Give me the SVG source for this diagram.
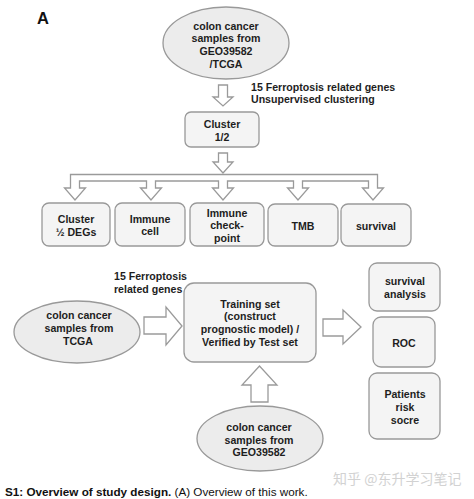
<svg xmlns="http://www.w3.org/2000/svg" width="474" height="499" viewBox="0 0 474 499">
<style>
.bg{fill:#ffffff}
.ell{fill:#ececec;stroke:#999999;stroke-width:1.3}
.box{fill:#f4f4f4;stroke:#999999;stroke-width:1.3}
.arr{fill:#ffffff;stroke:#9a9a9a;stroke-width:1.3;stroke-linejoin:miter}
text{font-family:"Liberation Sans",Arial,sans-serif;font-weight:bold;font-size:10.6px;fill:#1e1e1e}
.c{text-anchor:middle}
.lab{text-anchor:start}
.cap{font-size:11.7px;fill:#111}
.wm{font-family:"Noto Sans CJK SC","Liberation Sans",sans-serif;font-weight:normal;font-size:14px;fill:#d2d2d2}
</style>
<rect class="bg" x="0" y="0" width="474" height="499"/>
<text x="37" y="24" style="font-size:16.5px;fill:#111">A</text>

<g id="connectors">
  <polygon class="arr" points="218.5,85 227.5,85 227.5,97 233,97 223,106 213,97 218.5,97"/>
  <polygon class="arr" points="218.5,153 227.5,153 227.5,162 233,162 223,173 213,162 218.5,162"/>
  <path class="arr" d="M70.5,174.5 H377.5 V188 H383.5 L373,200 L362.5,188 H368.5 V181 H302.5 V188 H308.5 L298,200 L287.5,188 H293.5 V181 H227.5 V188 H233.5 L223,200 L212.5,188 H218.5 V181 H155.5 V188 H161.5 L151,200 L140.5,188 H146.5 V181 H79.5 V188 H85.5 L75,200 L64.5,188 H70.5 Z"/>
  <polygon class="arr" points="144,317 166,317 166,307 182,326 166,345 166,334 144,334"/>
  <polygon class="arr" points="323,319 343,319 343,310 361,327 343,344 343,336 323,336"/>
  <polygon class="arr" points="251,402 251,385 242,385 259.5,366 277,385 268,385 268,402"/>
</g>

<g id="node-top">
  <ellipse class="ell" cx="226" cy="43" rx="63" ry="36"/>
  <text class="c" x="226" y="29.5">colon cancer</text>
  <text class="c" x="226" y="42.2">samples from</text>
  <text class="c" x="226" y="55">GEO39582</text>
  <text class="c" x="226" y="67.7">/TCGA</text>
</g>
<g id="label-top">
  <text class="lab" x="251" y="90.5">15 Ferroptosis related genes</text>
  <text class="lab" x="251" y="102.8">Unsupervised clustering</text>
</g>
<g id="node-cluster">
  <rect class="box" x="185" y="112" width="74" height="35" rx="6"/>
  <text class="c" x="222" y="128">Cluster</text>
  <text class="c" x="222" y="140.5">1/2</text>
</g>
<g id="node-degs">
  <rect class="box" x="42" y="203" width="68" height="43" rx="7"/>
  <text class="c" x="76" y="223.3">Cluster</text>
  <text class="c" x="76" y="236">½ DEGs</text>
</g>
<g id="node-immune-cell">
  <rect class="box" x="115" y="203" width="70" height="43" rx="7"/>
  <text class="c" x="150" y="222.7">Immune</text>
  <text class="c" x="150" y="235.3">cell</text>
</g>
<g id="node-checkpoint">
  <rect class="box" x="190" y="203" width="74" height="43" rx="7"/>
  <text class="c" x="227" y="216.7">Immune</text>
  <text class="c" x="227" y="229.3">check-</text>
  <text class="c" x="227" y="241.8">point</text>
</g>
<g id="node-tmb">
  <rect class="box" x="268" y="204" width="70" height="42" rx="7"/>
  <text class="c" x="303" y="229.5">TMB</text>
</g>
<g id="node-survival">
  <rect class="box" x="341" y="204" width="70" height="42" rx="7"/>
  <text class="c" x="376" y="229.5">survival</text>
</g>

<g id="label-bottom">
  <text class="lab" x="114" y="280">15 Ferroptosis</text>
  <text class="lab" x="114" y="292.7">related genes</text>
</g>
<g id="node-tcga">
  <ellipse class="ell" cx="77" cy="332" rx="63" ry="31"/>
  <text class="c" x="79" y="319.3">colon cancer</text>
  <text class="c" x="79" y="332">samples from</text>
  <text class="c" x="78" y="344.7">TCGA</text>
</g>
<g id="node-training">
  <rect class="box" x="184" y="283" width="132" height="79" rx="10"/>
  <text class="c" x="250" y="307.7">Training set</text>
  <text class="c" x="250" y="320.4">(construct</text>
  <text class="c" x="250" y="333.1">prognostic model) /</text>
  <text class="c" x="250" y="345.8">Verified by Test set</text>
</g>
<g id="node-survival-analysis">
  <rect class="box" x="369" y="263" width="71" height="48" rx="8"/>
  <text class="c" x="405" y="285">survival</text>
  <text class="c" x="405" y="297.7">analysis</text>
</g>
<g id="node-roc">
  <rect class="box" x="373" y="317" width="62" height="50" rx="8"/>
  <text class="c" x="404" y="346.5">ROC</text>
</g>
<g id="node-risk">
  <rect class="box" x="369" y="373" width="71" height="66" rx="8"/>
  <text class="c" x="405" y="398.3">Patients</text>
  <text class="c" x="405" y="411">risk</text>
  <text class="c" x="405" y="423.5">socre</text>
</g>
<g id="node-geo">
  <ellipse class="ell" cx="260" cy="438.5" rx="63" ry="32.5"/>
  <text class="c" x="259" y="431">colon cancer</text>
  <text class="c" x="259" y="443.7">samples from</text>
  <text class="c" x="259" y="456.4">GEO39582</text>
</g>

<text class="wm" x="333" y="484">知乎 @东升学习笔记</text>
<text class="cap" x="5" y="496">S1: Overview of study design.<tspan style="font-weight:normal"> (A) Overview of this work.</tspan></text>
</svg>
